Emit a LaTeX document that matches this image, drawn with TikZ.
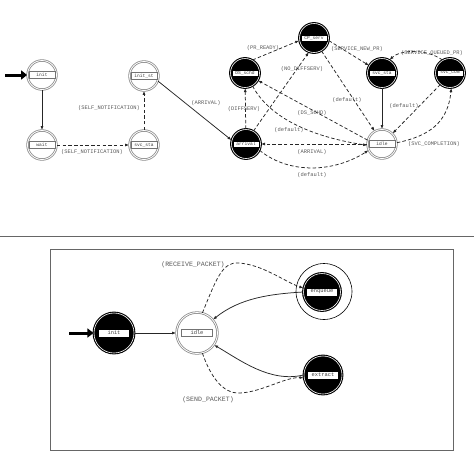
\documentclass[tikz,border=0pt]{standalone}
\usepackage{fontspec}
\setmonofont{Liberation Mono}
\usetikzlibrary{arrows.meta}
\tikzset{
  bst/.style={circle, draw=black, fill=black, double=white, double distance=0.6pt, line width=1.1pt, minimum size=29pt, inner sep=0pt},
  gst/.style={circle, draw=black!45, fill=white, double=white, double distance=0.8pt, line width=0.8pt, minimum size=29pt, inner sep=0pt},
  lbox/.style={fill=white, draw=black, line width=0.4pt, minimum width=26pt, minimum height=6.5pt, inner sep=0.5pt, font=\fontsize{4.6}{5}\selectfont\ttfamily, text=black!75},
  glbox/.style={lbox, draw=black!55, line width=0.6pt},
  lboxB/.style={lbox, minimum width=31pt, minimum height=7.5pt, font=\fontsize{5.4}{6}\selectfont\ttfamily},
  glboxB/.style={lboxB, draw=black!55, line width=0.6pt},
  tr/.style={-{Latex[length=4pt,width=3pt]}, line width=0.75pt, black!85},
  dtr/.style={tr, dash pattern=on 3.5pt off 2.2pt},
  elab/.style={font=\fontsize{5.4}{6}\selectfont\ttfamily, text=black!65, inner sep=0.5pt},
  elabB/.style={font=\fontsize{6.6}{7}\selectfont\ttfamily, text=black!65, inner sep=0.5pt},
  initarr/.style={-{Triangle[length=6pt,width=9pt]}, line width=3pt, black}
}
\begin{document}
\begin{tikzpicture}[x=1pt, y=-1pt]
\useasboundingbox (0,0) rectangle (474,474);
% ---------- top diagram ----------
\node[gst, label={[glbox]center:init}] (init) at (42,75) {};
\node[gst, label={[glbox]center:wait}] (wait) at (42,145) {};
\node[gst, label={[glbox]center:init\_st}] (initst) at (144,76) {};
\node[gst, label={[glbox]center:svc\_sta}] (svcsta0) at (144,145) {};
\node[bst, label={[lbox]center:DS\_schd}] (ds) at (245,73) {};
\node[bst, label={[lbox]center:CP\_serv}] (cp) at (314,38) {};
\node[bst, label={[lbox]center:svc\_sta}] (svcsta) at (382,73) {};
\node[bst, label={[lbox]center:svc\_com}] (svccom) at (450,73) {};
\node[bst, label={[lbox]center:arrival}] (arrival) at (246,144) {};
\node[gst, label={[glbox]center:idle}] (idle) at (382,144) {};

\coordinate (s0) at (5,75);
\draw[initarr] (s0) -- (init);

\draw[tr] (init) -- (wait);
\draw[dtr] (wait) -- (svcsta0);
\node[elab] (l1) at (92,152) {(SELF\_NOTIFICATION)};
\draw[dtr] (svcsta0) -- (initst);
\node[elab] (l2) at (109,108) {(SELF\_NOTIFICATION)};
\draw[tr] (initst.-20) -- (arrival.165);
\node[elab] (l3) at (206,103) {(ARRIVAL)};

\draw[dtr] (arrival) -- (ds);
\node[elab] (l4) at (244,109) {(DIFFSERV)};
\draw[dtr] (ds.60) -- (cp.190);
\node[elab] (l5) at (263,48) {(PR\_READY)};
\draw[dtr] (arrival.60) -- (cp.-110);
\node[elab] (l6) at (302,69) {(NO\_DIFFSERV)};
\draw[dtr] (cp.-10) -- (svcsta.150);
\node[elab] (l7) at (357,49) {(SERVICE\_NEW\_PR)};
\draw[dtr] (cp.-60) -- (idle.120);
\node[elab] (l8) at (347,100) {(default)};
\draw[dtr] (svccom.120) .. controls (425,48) and (400,50) .. (svcsta.60);
\node[elab] (l9) at (432,53) {(SERVICE\_QUEUED\_PR)};
\draw[tr] (svcsta) -- (idle);
\draw[dtr] (svccom.-130) -- (idle.45);
\node[elab] (l10) at (404,106) {(default)};
\draw[dtr] (idle.5) .. controls (430,136) and (448,122) .. (svccom.-85);
\node[elab] (l11) at (434,144) {(SVC\_COMPLETION)};
\draw[dtr] (idle.165) -- (ds.-30);
\node[elab] (l12) at (312,113) {(DS\_SCHD)};
\draw[dtr] (ds.-60) .. controls (272,122) and (320,138) .. (idle.185);
\node[elab] (l13) at (289,130) {(default)};
\draw[dtr] (idle.180) -- (arrival.0);
\node[elab] (l14) at (312,152) {(ARRIVAL)};
\draw[dtr] (arrival.-25) .. controls (290,175) and (335,172) .. (idle.205);
\node[elab] (l15) at (312,175) {(default)};

% ---------- separator ----------
\coordinate (sepL) at (0,236);
\coordinate (sepR) at (474,236);
\draw[black!60, line width=1pt] (sepL) -- (sepR);

% ---------- bottom diagram ----------
\node[draw=black!60, line width=1pt, minimum width=403pt, minimum height=201pt, inner sep=0pt] (frame) at (251.5,349.5) {};
\node[bst, minimum size=40pt, label={[lboxB]center:init}] (binit) at (114,333) {};
\node[gst, minimum size=41pt, label={[glboxB]center:idle}] (bidle) at (197,333) {};
\node[bst, minimum size=37pt, label={[lboxB]center:enqueue}] (enq) at (322,292) {};
\node[circle, draw=black, line width=0.6pt, minimum size=56pt, inner sep=0pt] (enqR) at (324,291.5) {};
\node[bst, minimum size=38pt, label={[lboxB]center:extract}] (ext) at (323,375) {};

\coordinate (s1) at (69,333);
\draw[initarr] (s1) -- (binit);
\draw[tr] (binit) -- (bidle);
\draw[tr] (enq.west) .. controls (270,294) and (240,298) .. (bidle.40);
\draw[tr] (ext.west) .. controls (270,383) and (240,360) .. (bidle.-35);
\draw[dtr] (bidle.75) .. controls (216,280) and (222,262) .. (238,263) .. controls (262,264) and (285,282) .. (enq.168);
\node[elabB] (l16) at (193,265) {(RECEIVE\_PACKET)};
\draw[dtr] (bidle.-75) .. controls (210,375) and (222,394) .. (240,393) .. controls (262,392) and (285,377) .. (ext.-172);
\node[elabB] (l17) at (208,400) {(SEND\_PACKET)};
\end{tikzpicture}
\end{document}
